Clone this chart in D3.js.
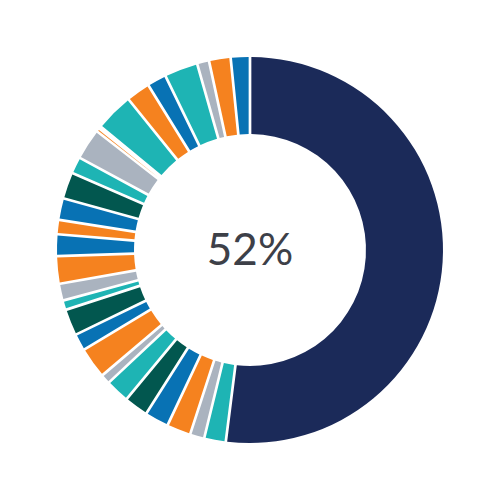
<!DOCTYPE html>
<html><head><meta charset="utf-8">
<script src="https://cdn.jsdelivr.net/npm/d3@7"></script>
<style>body{margin:0;background:#fff}</style></head>
<body><svg id="chart" width="500" height="500"></svg>
<script>
// slice values (percent), clockwise from 12 o'clock
const values = [52, 1.8, 1.2, 2.0, 2.0, 2.0, 2.0, 0.8, 2.6, 1.4, 2.2, 0.8, 1.4, 2.3, 1.8,
  1.2, 1.8, 2.2, 1.4, 2.6, 0.3, 0.2, 3.2, 2.0, 1.6, 2.8, 1.0, 1.8, 1.6];
const colorKeys = ["navy", "teal", "gray", "orange", "blue", "dkgreen", "teal", "gray", "orange", "blue",
  "dkgreen", "teal", "gray", "orange", "blue", "orange", "blue", "dkgreen", "teal", "gray",
  "orange", "blue", "teal", "orange", "blue", "teal", "gray", "orange", "blue"];
const palette = {navy: "#1b2a59", teal: "#1eb4b4", gray: "#aab3bf", orange: "#f5821f", blue: "#0872b4", dkgreen: "#02574f"};
const label = "52%";

const svg = d3.select("#chart");
const g = svg.append("g").attr("transform", "translate(250,250)");

const pie = d3.pie().sort(null).value(d => d);
const arc = d3.arc().innerRadius(116).outerRadius(193).padAngle(0.012);

g.selectAll("path")
  .data(pie(values))
  .join("path")
  .attr("d", arc)
  .attr("fill", (d, i) => palette[colorKeys[i]]);

g.append("text")
  .attr("text-anchor", "middle")
  .attr("dy", "0.35em")
  .attr("font-family", "Lato, 'Open Sans', sans-serif")
  .attr("font-size", 44)
  .attr("fill", "#3d4048")
  .text(label);
</script></body></html>
